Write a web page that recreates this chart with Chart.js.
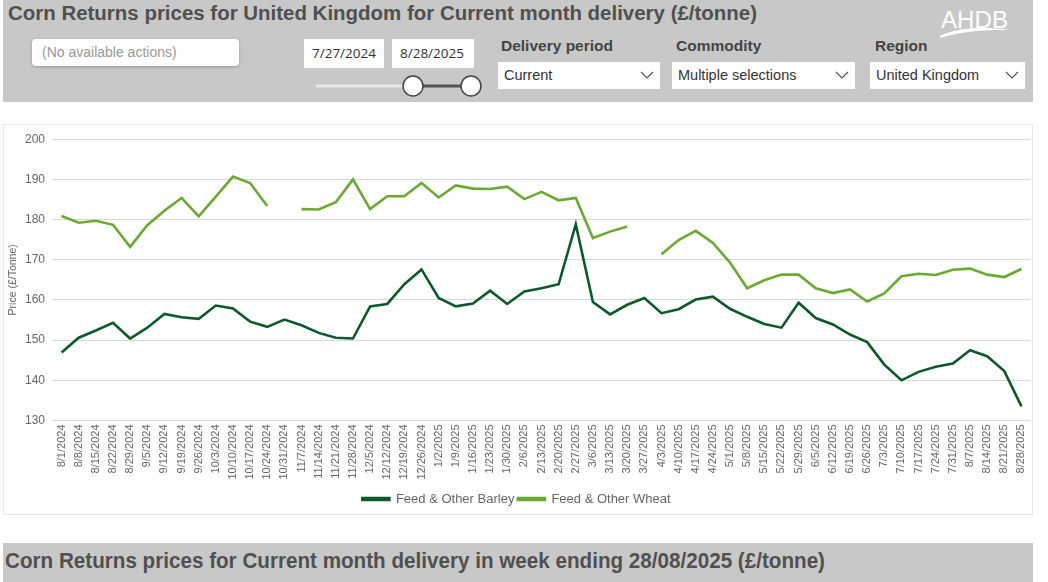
<!DOCTYPE html>
<html>
<head>
<meta charset="utf-8">
<script src="https://cdn.jsdelivr.net/npm/chart.js@4.4.1/dist/chart.umd.min.js"></script>
<style>
  html, body { margin:0; padding:0; background:#fff; width:1048px; height:582px; overflow:hidden; font-family:"Liberation Sans", Arial, sans-serif; }
  .abs { position:absolute; }
  #banner { left:3px; top:0; width:1030px; height:102px; background:#c8c8c8; }
  #title { left:8px; top:2px; font-weight:bold; font-size:20px; color:#505050; white-space:nowrap; transform-origin:left top; }
  .box { background:#fff; }
  #actions { left:32px; top:39px; width:207px; height:27px; border-radius:4px; box-shadow:0 1px 3px rgba(0,0,0,0.25); color:#999; font-size:14px; line-height:27px; padding-left:10px; box-sizing:border-box; background:#fff; }
  .date { top:39px; height:29px; font-size:13.5px; color:#333; line-height:29px; box-sizing:border-box; padding-left:8px; font-family:"Open Sans","Liberation Sans",sans-serif; }
  .lbl { top:37px; font-weight:bold; font-size:15.5px; color:#444; white-space:nowrap; font-family:"Liberation Sans",Arial,sans-serif; }
  .dd { top:62px; height:27px; font-size:14.5px; color:#333; line-height:27px; box-sizing:border-box; padding-left:6px; white-space:nowrap; }
  .dd svg { position:absolute; right:6px; top:9px; }
  #card { left:3px; top:124px; width:1030px; height:391px; border:1px solid #e6e6e6; box-sizing:border-box; }
  #chartwrap { left:3px; top:124px; width:1030px; height:394px; }
  #banner2 { left:3px; top:543px; width:1030px; height:39px; background:#c8c8c8; }
  #title2 { left:5px; top:548px; font-weight:bold; font-size:22px; color:#505050; white-space:nowrap; transform-origin:left top; }
</style>
</head>
<body>
<div id="banner" class="abs"></div>
<div id="title" class="abs">Corn Returns prices for United Kingdom for Current month delivery (£/tonne)</div>
<svg class="abs" style="left:935px;top:4px" width="80" height="34" viewBox="0 0 80 34">
  <text x="6" y="24" font-family="Liberation Sans, Arial, sans-serif" font-size="24" fill="#fff" textLength="67" lengthAdjust="spacingAndGlyphs">AHDB</text>
  <path d="M5 32 C 22 24, 44 22, 75 26 C 46 25.5, 24 28, 5 34 Z" fill="#fff"/>
</svg>
<div id="actions" class="abs">(No available actions)</div>
<div class="abs box date" style="left:304px;width:80px;">7/27/2024</div>
<div class="abs box date" style="left:392px;width:82px;">8/28/2025</div>
<svg class="abs" style="left:305px;top:72px" width="190" height="30">
  <line x1="11" y1="14" x2="108" y2="14" stroke="#e8e8e8" stroke-width="3"/>
  <line x1="108" y1="14" x2="166" y2="14" stroke="#555" stroke-width="3"/>
  <circle cx="108" cy="14" r="10" fill="#fff" stroke="#444" stroke-width="1.5"/>
  <circle cx="166" cy="14" r="10" fill="#fff" stroke="#444" stroke-width="1.5"/>
</svg>
<div class="abs lbl" style="left:501px;">Delivery period</div>
<div class="abs lbl" style="left:676px;">Commodity</div>
<div class="abs lbl" style="left:875px;">Region</div>
<div class="abs box dd" style="left:498px;width:162px;">Current<svg width="14" height="9"><polyline points="1,1 7,7 13,1" fill="none" stroke="#555" stroke-width="1.2"/></svg></div>
<div class="abs box dd" style="left:672px;width:183px;">Multiple selections<svg width="14" height="9"><polyline points="1,1 7,7 13,1" fill="none" stroke="#555" stroke-width="1.2"/></svg></div>
<div class="abs box dd" style="left:870px;width:155px;">United Kingdom<svg width="14" height="9"><polyline points="1,1 7,7 13,1" fill="none" stroke="#555" stroke-width="1.2"/></svg></div>

<div id="card" class="abs"></div>
<div id="chartwrap" class="abs"><canvas id="c" width="1030" height="394"></canvas></div>

<div id="banner2" class="abs"></div>
<div id="title2" class="abs">Corn Returns prices for Current month delivery in week ending 28/08/2025 (£/tonne)</div>

<script>
// ---- data ----
const categories = [
  "8/1/2024","8/8/2024","8/15/2024","8/22/2024","8/29/2024",
  "9/5/2024","9/12/2024","9/19/2024","9/26/2024",
  "10/3/2024","10/10/2024","10/17/2024","10/24/2024","10/31/2024",
  "11/7/2024","11/14/2024","11/21/2024","11/28/2024",
  "12/5/2024","12/12/2024","12/19/2024","12/26/2024",
  "1/2/2025","1/9/2025","1/16/2025","1/23/2025","1/30/2025",
  "2/6/2025","2/13/2025","2/20/2025","2/27/2025",
  "3/6/2025","3/13/2025","3/20/2025","3/27/2025",
  "4/3/2025","4/10/2025","4/17/2025","4/24/2025",
  "5/1/2025","5/8/2025","5/15/2025","5/22/2025","5/29/2025",
  "6/5/2025","6/12/2025","6/19/2025","6/26/2025",
  "7/3/2025","7/10/2025","7/17/2025","7/24/2025","7/31/2025",
  "8/7/2025","8/14/2025","8/21/2025","8/28/2025"
];
const barley = [
  146.9,150.6,152.4,154.3,150.4,
  153.1,156.5,155.7,155.3,
  158.6,157.9,154.6,153.3,155.1,
  153.7,151.8,150.6,150.4,
  158.4,159.0,163.9,167.6,
  160.5,158.4,159.1,162.3,159.0,
  162.1,162.9,163.9,178.8,
  159.5,156.4,158.8,160.5,
  156.7,157.7,160.1,160.8,
  157.8,155.8,154.0,153.1,159.3,
  155.5,153.9,151.4,149.5,
  143.9,140.0,142.1,143.4,144.2,
  147.5,146.0,142.3,133.5
];
const wheat = [
  180.9,179.2,179.7,178.7,173.2,
  178.6,182.2,185.4,180.8,
  185.7,190.7,189.1,183.4,null,
  182.6,182.5,184.3,190.0,
  182.6,185.8,185.8,189.1,
  185.5,188.5,187.7,187.6,188.2,
  185.1,186.9,184.8,185.4,
  175.4,177.0,178.3,null,
  171.4,174.9,177.2,174.2,
  169.3,162.9,164.9,166.3,166.3,
  162.9,161.7,162.6,159.6,
  161.6,165.9,166.5,166.2,167.5,
  167.8,166.3,165.7,167.7
];
const seriesNames = ["Feed & Other Barley", "Feed & Other Wheat"];
const yTicks = [130,140,150,160,170,180,190,200];
const yTitle = "Price (£/Tonne)";

// ---- fit header texts to widths ----
function fitWidth(id, target) {
  const el = document.getElementById(id);
  const w = el.getBoundingClientRect().width;
  el.style.transform = "scaleX(" + (target / w) + ")";
}
fitWidth("title", 749);
fitWidth("title2", 820);

const BARLEY = "#0c5a2c", WHEAT = "#6aab2f";
const FONT = "'Liberation Sans', Arial, sans-serif";

new Chart(document.getElementById("c"), {
  type: "line",
  data: {
    labels: categories,
    datasets: [
      { label: seriesNames[0], data: barley, borderColor: BARLEY, backgroundColor: BARLEY, borderWidth: 2.6, pointRadius: 0, tension: 0 },
      { label: seriesNames[1], data: wheat, borderColor: WHEAT, backgroundColor: WHEAT, borderWidth: 2.6, pointRadius: 0, tension: 0 }
    ]
  },
  options: {
    responsive: false,
    animation: false,
    layout: { padding: { top: 13, right: 3, left: 0, bottom: 2.5 } },
    plugins: {
      tooltip: { enabled: false },
      legend: {
        position: "bottom",
        labels: { boxWidth: 27, boxHeight: 2, color: "#666", font: { family: FONT, size: 13 }, padding: 3.5 }
      }
    },
    scales: {
      x: {
        offset: true,
        grid: { display: false, drawTicks: false },
        border: { display: false },
        ticks: { color: "#666", font: { family: FONT, size: 11 }, minRotation: 90, maxRotation: 90, autoSkip: false, padding: 4 },
        afterFit: s => { s.height = 68.5; s.paddingRight = 0; s.paddingLeft = 0; }
      },
      y: {
        min: 130, max: 200,
        afterBuildTicks: s => { s.ticks = yTicks.map(v => ({ value: v })); },
        grid: { color: "#d9d9d9", lineWidth: 1, drawTicks: false },
        border: { display: false },
        ticks: { color: "#666", font: { family: FONT, size: 12 }, padding: 8 },
        title: { display: true, text: yTitle, color: "#666", font: { family: FONT, size: 10.5 }, padding: { top: 4, bottom: 0 } },
        afterFit: s => { s.width = 50; }
      }
    }
  }
});
</script>
</body>
</html>
